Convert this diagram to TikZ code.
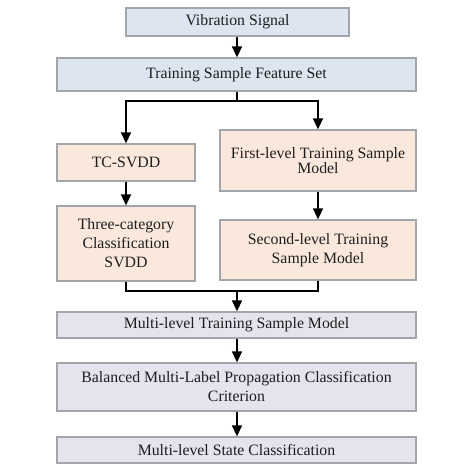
\documentclass[tikz,border=0pt]{standalone}
\usepackage{fontspec}
\setmainfont{Liberation Serif}
\newfontfamily\timesfont{Liberation Serif}
\usetikzlibrary{arrows.meta}
\definecolor{bluefill}{HTML}{DDE6F0}
\definecolor{peachfill}{HTML}{FBE8DC}
\definecolor{lavfill}{HTML}{E5E3EE}
\definecolor{boxline}{HTML}{A2A5A9}
\definecolor{txt}{HTML}{1E1E1E}
\tikzset{
  x=1pt, y=-1pt,
  box/.style={draw=boxline, line width=1.3pt, align=center, inner sep=0pt,
    font=\timesfont\fontsize{15.8}{19}\selectfont, text=txt},
  bluebox/.style={box, fill=bluefill},
  peachbox/.style={box, fill=peachfill},
  lavbox/.style={box, fill=lavfill},
  conn/.style={line width=1.5pt, black},
  arr/.style={conn, -{Triangle[length=11pt,width=10pt]}},
}
\begin{document}
\begin{tikzpicture}
\useasboundingbox (0,0) rectangle (474,474);
\fill[white] (0,0) rectangle (474,474);
\node[bluebox, minimum width=223pt, minimum height=28pt] (vib) at (237.5,22) {Vibration Signal};
\node[bluebox, minimum width=359pt, minimum height=33pt] (tsfs) at (236.5,74.5) {Training Sample Feature Set};
\node[peachbox, minimum width=138pt, minimum height=37pt] (tc) at (126,162.5) {TC-SVDD};
\node[peachbox, minimum width=196pt, minimum height=61pt, font=\timesfont\fontsize{15.8}{15}\selectfont] (first) at (318,160.5) {First-level Training Sample\\Model};
\node[peachbox, minimum width=138pt, minimum height=75pt] (three) at (126,243.5) {Three-category\\Classification\\SVDD};
\node[peachbox, minimum width=196pt, minimum height=60pt] (second) at (318,250) {Second-level Training\\Sample Model};
\node[lavbox, minimum width=359pt, minimum height=26pt] (mltsm) at (236.5,325) {Multi-level Training Sample Model};
\node[lavbox, minimum width=359pt, minimum height=48pt] (bal) at (236.5,387) {Balanced Multi-Label Propagation Classification\\Criterion};
\node[lavbox, minimum width=359pt, minimum height=26pt] (state) at (236.5,450) {Multi-level State Classification};
\coordinate (split) at (237,101);
\coordinate (merge) at (237,291);
\draw[arr] (vib.south -| split) -- (tsfs.north -| split);
\draw[conn] (tsfs.south -| split) -- (split);
\draw[arr] (split) -| (tc.north);
\draw[arr] (split) -| (first.north);
\draw[arr] (tc) -- (three);
\draw[arr] (first) -- (second);
\draw[conn] (three.south) |- (merge);
\draw[conn] (second.south) |- (merge);
\draw[arr] (merge) -- (mltsm.north -| merge);
\draw[arr] (mltsm.south -| merge) -- (bal.north -| merge);
\draw[arr] (bal.south -| merge) -- (state.north -| merge);
\end{tikzpicture}
\end{document}
